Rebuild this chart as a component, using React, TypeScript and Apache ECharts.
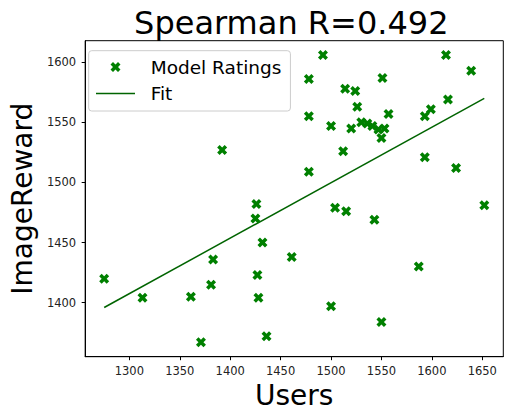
import React, { useEffect, useRef } from "react";
import * as echarts from "echarts";

const users = [
  1275, 1313, 1361, 1371, 1381, 1383, 1392, 1426, 1425, 1432, 1427, 1428, 1436, 1461,
  1478, 1478, 1478, 1492, 1500, 1504, 1500, 1514, 1524, 1526, 1512, 1515, 1520, 1530,
  1536, 1541, 1547, 1553, 1550, 1551, 1557, 1543, 1550, 1587, 1593, 1593, 1599, 1614,
  1616, 1624, 1639, 1652,
];
const imageReward = [
  1420, 1404, 1405, 1367, 1415, 1436, 1527, 1482, 1470, 1450, 1423, 1404, 1372, 1438,
  1586, 1555, 1509, 1606, 1547, 1479, 1397, 1578, 1576, 1563, 1526, 1476, 1545, 1550,
  1549, 1547, 1544, 1545, 1537, 1587, 1557, 1469, 1384, 1430, 1521, 1555, 1561, 1606,
  1569, 1512, 1593, 1481,
];
const fitUsers = [1275, 1652];
const fitReward = [1396, 1570];
const xTicks = [1300, 1350, 1400, 1450, 1500, 1550, 1600, 1650];
const yTicks = [1400, 1450, 1500, 1550, 1600];
const titleText = "Spearman R=0.492";
const xName = "Users";
const yName = "ImageReward";
const scatterName = "Model Ratings";
const fitName = "Fit";

const FONT = "DejaVu Sans";
const X_MARK = "path://M1,0L2,1L3,0L4,1L3,2L4,3L3,4L2,3L1,4L0,3L1,2L0,1Z";
const LINE_ICON = "path://M0,0L39,0L39,1.5L0,1.5Z";

function paddedExtent(vals: number[]): [number, number] {
  const lo = Math.min(...vals);
  const hi = Math.max(...vals);
  const pad = (hi - lo) * 0.05;
  return [lo - pad, hi + pad];
}

export default function App() {
  const ref = useRef<HTMLDivElement>(null);
  useEffect(() => {
    document.body.style.margin = "0";
    if (!ref.current) return;
    const chart = echarts.init(ref.current, null, { renderer: "svg" });
    const [xMin, xMax] = paddedExtent([...users, ...fitUsers]);
    const [yMin, yMax] = paddedExtent([...imageReward, ...fitReward]);
    chart.setOption({
      animation: false,
      backgroundColor: "#fff",
      title: {
        text: titleText,
        left: 291.3,
        top: 7,
        textAlign: "center",
        padding: 0,
        textStyle: { fontSize: 32, fontWeight: "normal", color: "#000", fontFamily: FONT },
      },
      legend: {
        orient: "vertical",
        left: 88.7,
        top: 50.7,
        padding: [5.3, 9, 6.4, 7.3],
        itemWidth: 39,
        itemHeight: 10,
        itemGap: 4.6,
        borderColor: "#cccccc",
        borderWidth: 1,
        borderRadius: 3,
        backgroundColor: "rgba(255,255,255,0.8)",
        textStyle: {
          fontSize: 18.5,
          lineHeight: 22,
          color: "#000",
          fontFamily: FONT,
          padding: [0, 0, 0, 10.7],
        },
        data: [
          { name: scatterName, icon: X_MARK, itemStyle: { color: "#008000", opacity: 1 } },
          { name: fitName, icon: LINE_ICON, itemStyle: { color: "#006400", opacity: 1 } },
        ],
      },
      grid: {
        left: 79.3,
        right: 8.7,
        top: 40.7,
        bottom: 61.3,
        show: true,
        borderColor: "#000",
        borderWidth: 1,
        backgroundColor: "transparent",
      },
      xAxis: {
        type: "value",
        min: xMin,
        max: xMax,
        name: xName,
        nameLocation: "middle",
        nameGap: 24,
        nameTextStyle: { fontSize: 28, color: "#000", fontFamily: FONT },
        axisLine: { show: true, onZero: false, lineStyle: { color: "#000", width: 1 } },
        axisTick: { show: true, length: 3.5, customValues: xTicks, lineStyle: { color: "#000" } },
        axisLabel: {
          customValues: xTicks,
          formatter: (v: number) => String(Math.round(v)),
          fontSize: 11.5,
          color: "#222",
          margin: 8,
          fontFamily: FONT,
        },
        splitLine: { show: false },
      },
      yAxis: {
        type: "value",
        min: yMin,
        max: yMax,
        name: yName,
        nameLocation: "middle",
        nameGap: 44,
        nameTextStyle: { fontSize: 28, color: "#000", fontFamily: FONT },
        axisLine: { show: true, onZero: false, lineStyle: { color: "#000", width: 1 } },
        axisTick: { show: true, length: 3.5, customValues: yTicks, lineStyle: { color: "#000" } },
        axisLabel: {
          customValues: yTicks,
          formatter: (v: number) => String(Math.round(v)),
          fontSize: 11.5,
          color: "#222",
          margin: 9,
          fontFamily: FONT,
        },
        splitLine: { show: false },
      },
      series: [
        {
          type: "scatter",
          name: scatterName,
          symbol: X_MARK,
          symbolSize: 10,
          itemStyle: { color: "#008000", opacity: 1 },
          data: users.map((u, i) => [u, imageReward[i]]),
          z: 3,
        },
        {
          type: "line",
          name: fitName,
          symbol: "none",
          color: "#006400",
          itemStyle: { color: "#006400" },
          lineStyle: { color: "#006400", width: 1.5 },
          data: fitUsers.map((u, i) => [u, fitReward[i]]),
          z: 2,
        },
      ],
    });
    return () => chart.dispose();
  }, []);
  return <div ref={ref} style={{ width: 512, height: 418 }} />;
}
